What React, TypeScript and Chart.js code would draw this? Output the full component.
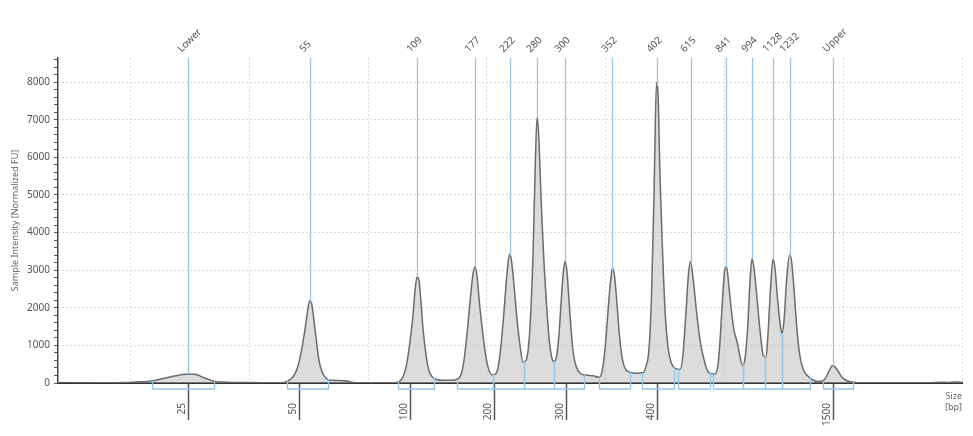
import React, { useEffect, useRef } from 'react';
import { Chart, registerables } from 'chart.js';

Chart.register(...registerables);

const FONT = "'Noto Sans', 'Open Sans', sans-serif";
const BLUE = '#94c6e9';

// migration position (arbitrary units along the run) and intensity (normalized FU)
const migration = [
  58, 100, 128, 140, 150, 160, 167, 176, 183, 190, 196, 200, 204, 208, 215, 222, 235, 255, 270, 280,
  285, 290, 294, 298, 301, 304, 307, 309.5, 311.5, 314, 316.5, 319, 322, 326, 330, 340, 347, 353, 365, 390,
  397, 401, 404, 407, 410, 413, 415, 417, 419, 421, 423, 426, 429, 432, 436, 443, 452, 457, 461, 464,
  467, 470, 473, 475, 477, 479, 482, 485, 488, 492, 495, 498, 501, 504, 507, 509.5, 511.5, 514, 517, 520,
  523, 526, 529, 531, 533, 535, 537, 538.5, 540, 542, 544, 546, 549, 552, 554, 556.5, 559, 561, 563, 565,
  567, 569, 571, 573, 576, 580, 586, 593, 599, 602, 605, 608, 610.5, 612.5, 614.5, 617, 619.5, 622.5, 627, 636,
  643, 646, 649, 651.5, 654, 656.5, 658, 660, 662, 665, 668, 671, 676, 680, 683, 686, 688.5, 690.5, 693, 696.5,
  700, 705, 709, 715, 718, 720, 722, 724.5, 726.5, 729, 731.5, 734, 737, 740, 742.5, 745, 747.5, 750, 752, 754,
  756.5, 760, 763.5, 766, 768, 770.5, 773, 775, 777.5, 780.5, 782, 784, 786.5, 789.5, 791.5, 794, 797, 800, 804, 808,
  813, 818, 823, 826, 829, 832.5, 835, 838, 842, 847, 855, 870, 930, 940, 948, 955, 962,
];
const intensity = [
  0, 5, 10, 30, 50, 100, 140, 190, 225, 240, 225, 190, 140, 100, 40, 25, 15, 10, 5, 5,
  20, 90, 200, 450, 800, 1250, 1800, 2180, 2130, 1650, 1100, 600, 300, 130, 70, 65, 55, 15, 5, 5,
  15, 80, 230, 550, 1100, 1800, 2450, 2820, 2720, 2150, 1450, 750, 330, 170, 100, 70, 70, 100, 220, 600,
  1300, 2150, 2900, 3090, 2850, 2250, 1500, 850, 430, 220, 230, 400, 1000, 1900, 2900, 3430, 3250, 2600, 1700, 1000,
  560, 600, 1100, 2000, 3400, 5500, 7050, 6700, 5700, 4300, 3200, 2300, 1200, 650, 570, 700, 1300, 2100, 2850, 3240,
  2950, 2200, 1450, 850, 450, 260, 210, 190, 150, 300, 900, 1900, 2700, 3060, 2850, 2100, 1250, 620, 320, 260,
  270, 450, 900, 2300, 5000, 7990, 7700, 5500, 3900, 1950, 950, 550, 380, 360, 750, 1900, 2900, 3240, 2800, 1900,
  1140, 520, 270, 240, 480, 1100, 2000, 2950, 3100, 2550, 1900, 1400, 1100, 700, 470, 650, 1400, 2700, 3300, 3050,
  2400, 1400, 720, 690, 1300, 2500, 3290, 3050, 2250, 1500, 1320, 1650, 2700, 3400, 3250, 2500, 1400, 700, 320, 180,
  80, 40, 60, 150, 320, 460, 430, 320, 150, 60, 15, 5, 5, 20, 15, 25, 20,
];

// called peaks
const peakLabels = ['Lower', '55', '109', '177', '222', '280', '300', '352', '402', '615', '841', '994', '1128', '1232', 'Upper'];
const peakPositions = [188, 310, 417, 475, 510, 537, 565, 612, 657, 691, 726, 752, 773, 790, 833];
const regionStarts = [152, 287, 398, 457, 493, 524, 554, 599, 642, 678, 713, 743, 765, 782, 823];
const regionEnds = [214, 328, 434, 493, 524, 554, 584, 630, 674, 710, 743, 765, 782, 810, 853];

// ladder size ticks
const bpLabels = ['25', '50', '100', '200', '300', '400', '1500'];
const bpPositions = [188, 299, 410, 494, 566, 657, 833];

// background grid positions
const gridPositions = [130, 249, 368, 486, 605, 724, 843, 962];

// y axis
const yTickLabels = ['0', '1000', '2000', '3000', '4000', '5000', '6000', '7000', '8000'];
const yMax = 8640;
const yMinorStep = 200;

const X_MIN = 58;
const X_MAX = 962;

function valueAt(pos: number): number {
  for (let i = 0; i < migration.length - 1; i++) {
    const a = migration[i];
    const b = migration[i + 1];
    if (pos >= a && pos <= b) {
      const t = (pos - a) / (b - a);
      return intensity[i] + t * (intensity[i + 1] - intensity[i]);
    }
  }
  return 0;
}

const markerPlugin = {
  id: 'peakMarkers',
  afterDatasetsDraw(chart: any) {
    const { ctx, chartArea, scales } = chart;
    const xs = scales.x;
    const ys = scales.y;
    const base = ys.getPixelForValue(0);
    const yb = base + 6;
    ctx.save();
    ctx.strokeStyle = BLUE;
    ctx.lineWidth = 1.3;
    peakPositions.forEach((p) => {
      const px = Math.round(xs.getPixelForValue(p)) + 0.5;
      ctx.beginPath();
      ctx.moveTo(px, chartArea.top);
      ctx.lineTo(px, ys.getPixelForValue(valueAt(p)));
      ctx.stroke();
    });
    regionStarts.forEach((s, i) => {
      const e = regionEnds[i];
      const x1 = Math.round(xs.getPixelForValue(s)) + 0.5;
      const x2 = Math.round(xs.getPixelForValue(e)) + 0.5;
      ctx.beginPath();
      ctx.moveTo(x1, ys.getPixelForValue(valueAt(s)));
      ctx.lineTo(x1, yb);
      ctx.lineTo(x2, yb);
      ctx.lineTo(x2, ys.getPixelForValue(valueAt(e)));
      ctx.stroke();
    });
    ctx.restore();
  },
};

export default function App() {
  const ref = useRef<HTMLCanvasElement>(null);

  useEffect(() => {
    document.body.style.margin = '0';
    const yTickValues: number[] = [];
    for (let v = 0; v <= yMax; v += yMinorStep) yTickValues.push(v);

    const chart = new Chart(ref.current as HTMLCanvasElement, {
      type: 'line',
      data: {
        datasets: [
          {
            data: migration.map((m, i) => ({ x: m, y: intensity[i] })),
            xAxisID: 'x',
            yAxisID: 'y',
            borderColor: '#6b6b6b',
            borderWidth: 1.5,
            backgroundColor: 'rgba(185,185,185,0.5)',
            fill: 'origin',
            pointRadius: 0,
            cubicInterpolationMode: 'monotone',
            tension: 0.4,
          } as any,
        ],
      },
      plugins: [markerPlugin],
      options: {
        animation: false,
        responsive: false,
        devicePixelRatio: 1,
        layout: { padding: { left: 0, right: 11, top: 0, bottom: 0 } },
        plugins: { legend: { display: false }, tooltip: { enabled: false } },
        scales: {
          x: {
            type: 'linear',
            position: 'bottom',
            min: X_MIN,
            max: X_MAX,
            afterFit: (s: any) => { s.height = 0; },
            afterBuildTicks: (s: any) => { s.ticks = gridPositions.map((v) => ({ value: v })); },
            ticks: { display: false },
            grid: { color: '#cfcfcf', lineWidth: 1, drawTicks: false },
            border: { display: false, dash: [1.5, 2.5] },
          },
          xbp: {
            type: 'linear',
            position: 'bottom',
            min: X_MIN,
            max: X_MAX,
            z: 1,
            afterFit: (s: any) => { s.height = 53; },
            afterBuildTicks: (s: any) => { s.ticks = bpPositions.map((v) => ({ value: v })); },
            ticks: {
              autoSkip: false,
              minRotation: 90,
              maxRotation: 90,
              padding: -17,
              labelOffset: -6,
              color: '#555',
              font: { size: 10, family: FONT },
              callback: (_v: any, i: number) => bpLabels[i],
            },
            grid: { drawOnChartArea: false, drawTicks: true, tickLength: 37, tickColor: '#555', tickWidth: 1.5 },
            border: { display: true, color: '#333', width: 2 },
            title: {
              display: true,
              text: ['Size', '[bp]'],
              align: 'end',
              color: '#666',
              font: { size: 9, family: FONT },
              padding: { top: 0, bottom: 23 },
            },
          },
          xtop: {
            type: 'linear',
            position: 'top',
            min: X_MIN,
            max: X_MAX,
            afterFit: (s: any) => { s.height = 58; },
            afterBuildTicks: (s: any) => { s.ticks = peakPositions.map((v) => ({ value: v })); },
            ticks: {
              autoSkip: false,
              minRotation: 45,
              maxRotation: 45,
              padding: 3,
              color: '#555',
              font: { size: 10, family: FONT },
              callback: (_v: any, i: number) => peakLabels[i],
            },
            grid: { display: false, drawTicks: false },
            border: { display: false },
          },
          y: {
            type: 'linear',
            min: 0,
            max: yMax,
            afterFit: (s: any) => { s.width = 58; },
            afterBuildTicks: (s: any) => { s.ticks = yTickValues.map((v) => ({ value: v })); },
            ticks: {
              autoSkip: false,
              padding: 4,
              color: '#555',
              font: { size: 10, family: FONT },
              callback: (v: any) => (Number(v) % 1000 === 0 ? yTickLabels[Number(v) / 1000] : ''),
            },
            grid: {
              color: (c: any) => (c.tick && c.tick.value > 0 && c.tick.value % 1000 === 0 ? '#cfcfcf' : 'rgba(0,0,0,0)'),
              lineWidth: 1,
              tickColor: '#555',
              tickLength: 4,
              tickWidth: 1,
            },
            border: { display: true, color: '#444', width: 1.5, dash: [1.5, 2.5] },
            title: {
              display: true,
              text: 'Sample Intensity [Normalized FU]',
              color: '#666',
              font: { size: 9, family: FONT },
              padding: { top: 10, bottom: 0 },
            },
          },
        },
      } as any,
    });
    return () => chart.destroy();
  }, []);

  return (
    <div style={{ width: 973, height: 436 }}>
      <canvas ref={ref} width={973} height={436} style={{ display: 'block' }} />
    </div>
  );
}
